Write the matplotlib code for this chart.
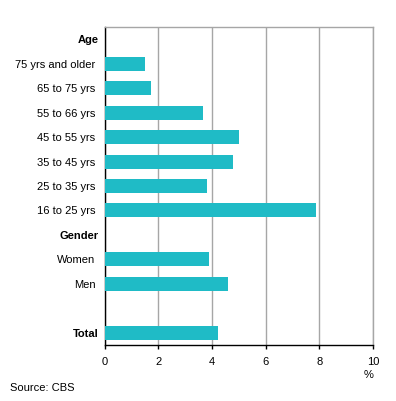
import matplotlib
matplotlib.use("Agg")
import matplotlib.pyplot as plt
import matplotlib.transforms as mtransforms
import numpy as np

categories = ["Age", "75 yrs and older", "65 to 75 yrs", "55 to 66 yrs", "45 to 55 yrs",
              "35 to 45 yrs", "25 to 35 yrs", "16 to 25 yrs", "Gender", "Women", "Men", "", "Total"]
values = [None, 1.5, 1.73, 3.67, 5.0, 4.78, 3.82, 7.88, None, 3.89, 4.6, None, 4.23]
bold_rows = ["Age", "Gender", "Total"]
xticks = [0, 2, 4, 6, 8, 10]

plt.rcParams['font.family'] = ['Liberation Sans', 'DejaVu Sans']

fig = plt.figure(figsize=(3.96, 4.01), dpi=100)
ax = fig.add_axes([104.5/396, 1-345/401, (373-104.5)/396, (345-27)/401])

color = "#1FBBC6"
ypos = np.arange(len(categories))
for y, v in zip(ypos, values):
    if v is not None:
        ax.barh(y, v, height=0.57, color=color, zorder=3)

ax.set_ylim(len(categories)-0.5, -0.5)
ax.set_xlim(0, 10)
ax.set_xticks(xticks)
ax.set_xticklabels([str(t) for t in xticks], fontsize=8)
ax.set_yticks(ypos)
ax.set_yticklabels(categories, fontsize=8)
ax.tick_params(axis='y', length=0, pad=6.5)
ax.tick_params(axis='x', length=3, width=1, pad=5.5, colors='black')
offset = mtransforms.ScaledTranslation(3/100, 0, fig.dpi_scale_trans)
for lbl in ax.get_yticklabels():
    if lbl.get_text() in bold_rows:
        lbl.set_fontweight("bold")
        lbl.set_transform(lbl.get_transform() + offset)

ax.grid(axis='x', color='#A6A6A6', linewidth=1, zorder=0)
ax.set_axisbelow(True)
ax.spines['left'].set_color('black')
ax.spines['bottom'].set_color('black')
ax.spines['top'].set_color('#A6A6A6')
ax.spines['right'].set_color('#A6A6A6')
for s in ax.spines.values():
    s.set_linewidth(1)

fig.text(369/396, 1-375/401, "%", fontsize=8, ha='center', va='center')
fig.text(10/396, 1-388/401, "Source: CBS", fontsize=8, ha='left', va='center')

fig.savefig("out.png", dpi=100)
